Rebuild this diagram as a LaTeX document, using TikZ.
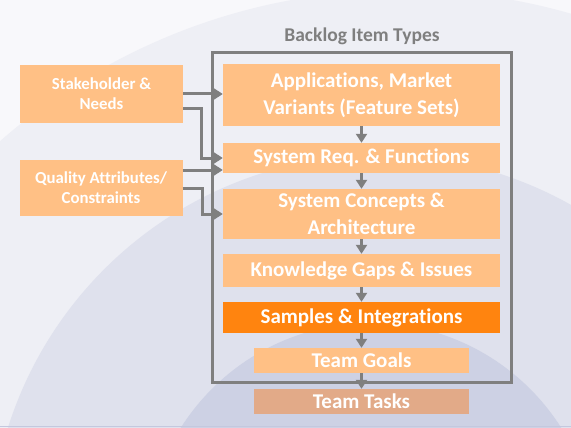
\documentclass[tikz,border=0pt]{standalone}
\usepackage{fontspec}
\setmainfont[Ligatures={NoCommon}]{Carlito}
\usepackage{tikz}
\usetikzlibrary{calc}
\usetikzlibrary{arrows.meta}
\usetikzlibrary{positioning}
\usepackage{color}
\definecolor{peach}{RGB}{255, 192, 133}
\definecolor{tangerine}{RGB}{255, 132, 15}
\definecolor{clay}{RGB}{226, 170, 136}
\definecolor{slate}{RGB}{127, 127, 127}
\definecolor{haze}{RGB}{248, 248, 251}
\definecolor{mist}{RGB}{238, 239, 245}
\definecolor{lilac}{RGB}{223, 225, 237}
\definecolor{dusk}{RGB}{205, 209, 228}
\definecolor{rim}{RGB}{196, 200, 222}

\tikzset{
    itembox/.style={fill=peach, text=white, inner sep=0pt, align=center,
        font=\bfseries\fontsize{21}{27}\selectfont},
    inputbox/.style={fill=peach, text=white, inner sep=0pt, align=center,
        minimum width=163pt, font=\bfseries\fontsize{16.8}{20}\selectfont},
    flow/.style={draw=slate, line width=3pt, -{Triangle[width=11pt,length=9pt]}},
}

\begin{document}
\begin{tikzpicture}[x=1pt, y=-1pt]
            % Background with the three arcs:
            \useasboundingbox                                          (  0.0,   0.0) rectangle (571.0, 428.0);
            \fill[haze]                                                (  0.0,   0.0) rectangle (571.0, 428.0);
            \begin{scope}
                \clip                                                  (  0.0,   0.0) rectangle (571.0, 428.0);
                \fill[mist]                                            (402.0, 600.0) circle [radius=610pt];
                \fill[lilac]                                           (380.0, 545.0) circle [radius=390pt];
                \fill[dusk]                                            (371.0, 548.0) circle [radius=225pt];
            \end{scope}
            \draw[rim, line width=1.5pt]                               (  0.0, 426.5) --     (571.0, 426.5);
            % Frame of the backlog:
            \node[color=slate, font=\bfseries\fontsize{19.5}{23}\selectfont, anchor=base]
                                                              (heading) at (362.0,  42.0) {Backlog Item Types};
            \node[draw=slate, line width=3pt, inner sep=0pt,
                  minimum width=299pt, minimum height=329pt]  (frame)   at (361.75, 217.5) {};
            % Item types:
            \node[itembox, minimum width=277pt, minimum height=62pt] (app)   at (361.5,  95.0) {Applications, Market\\Variants (Feature Sets)};
            \node[itembox, minimum width=277pt, minimum height=30pt] (req)   at (361.5, 158.0) {System Req. \& Functions};
            \node[itembox, minimum width=277pt, minimum height=50pt] (arch)  at (361.5, 214.0) {System Concepts \&\\Architecture};
            \node[itembox, minimum width=277pt, minimum height=33pt] (gaps)  at (361.5, 270.5) {Knowledge Gaps \& Issues};
            \node[itembox, minimum width=277pt, minimum height=31pt,
                  fill=tangerine]                                    (samp)  at (361.5, 317.5) {Samples \& Integrations};
            \node[itembox, minimum width=215pt, minimum height=25pt] (goals) at (361.5, 360.5) {Team Goals};
            \node[itembox, minimum width=215pt, minimum height=25pt,
                  fill=clay]                                         (tasks) at (361.5, 401.5) {Team Tasks};
            % Inputs:
            \node[inputbox, minimum height=58pt]                     (stake) at (101.5,  94.0) {Stakeholder \&\\Needs};
            \node[inputbox, minimum height=56pt]                     (qual)  at (101.0, 188.0) {Quality Attributes/\\Constraints};
            % Connectors:
            \draw[flow] (app)   -- (req);
            \draw[flow] (req)   -- (arch);
            \draw[flow] (arch)  -- (gaps);
            \draw[flow] (gaps)  -- (samp);
            \draw[flow] (samp)  -- (goals);
            \draw[flow] (goals) -- (tasks);
            \draw[flow] (stake.east) -- (stake.east -| app.west);
            \draw[flow] ([yshift=-15pt]stake.east) -- ++(18,0) |- (req.west);
            \draw[flow] ([yshift=18pt]qual.east) -- ([yshift=18pt]qual.east -| req.west);
            \draw[flow] (qual.east) -- ++(20,0) |- (arch.west);
        \end{tikzpicture}
\end{document}
